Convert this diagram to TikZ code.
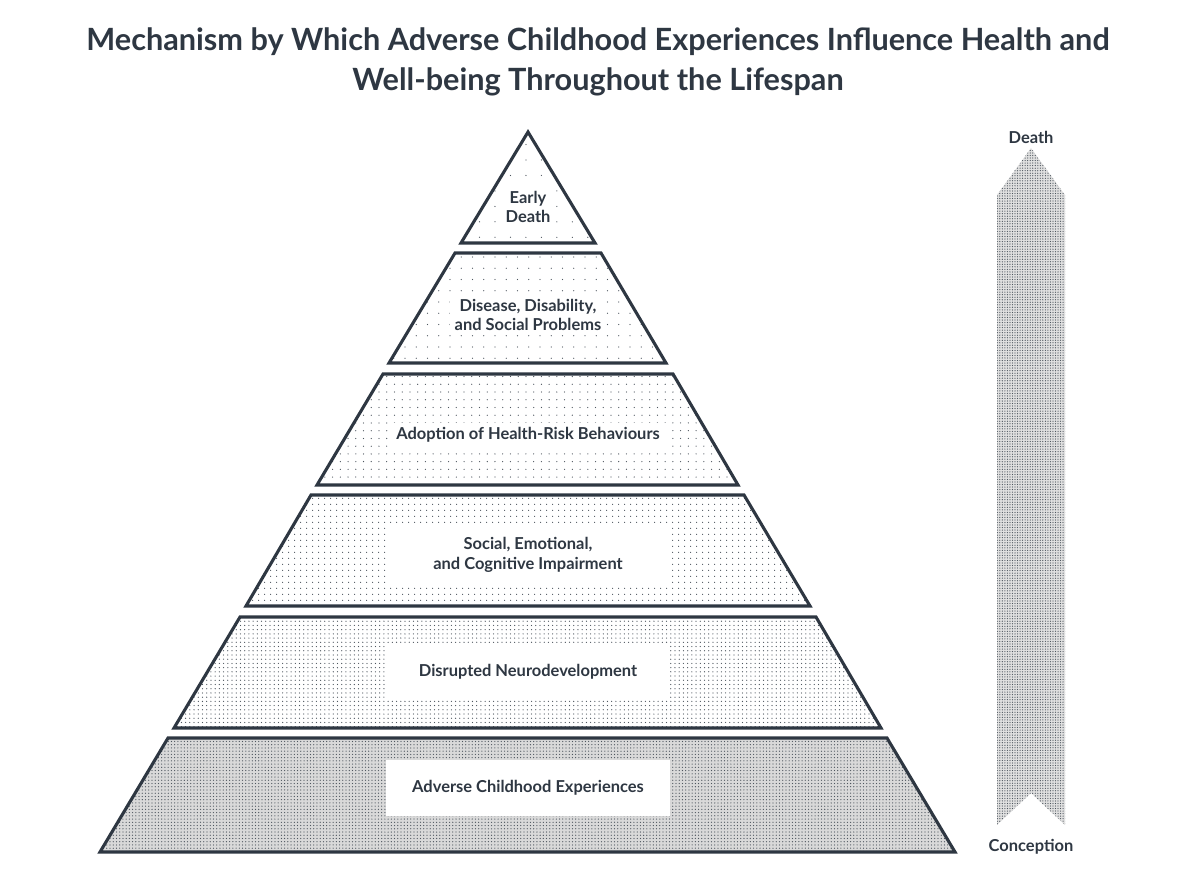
\documentclass[tikz,border=0pt]{standalone}
\usepackage{fontspec}
\setmainfont{Lato}
\usetikzlibrary{patterns.meta}
\definecolor{slate}{HTML}{2E3742}

\tikzset{
  tier/.style={draw=slate, line width=2.2pt, line join=miter},
  tierlabel/.style={fill=white, font=\bfseries\fontsize{11.7}{14}\selectfont,
    text=slate, align=center, inner sep=3pt},
  dotsfill/.style={pattern={Dots[radius=0.45pt, distance=#1]}, pattern color=slate!85}
}

\begin{document}
\begin{tikzpicture}[x=0.025cm, y=-0.025cm]
    \useasboundingbox (0,0) rectangle (1200,887);

    % Title
    \node[font=\bfseries\fontsize{21.8}{28}\selectfont, text=slate, align=center] (title) at (598,62)
        {Mechanism by Which Adverse Childhood Experiences Influence Health and\\Well-being Throughout the Lifespan};

    % Tiers of the pyramid, from top to bottom
    \draw[tier, dotsfill=11pt] (528,132) -- (595,243) -- (461,243) -- cycle;
    \draw[tier, dotsfill=8pt] (455,253) -- (601,253) -- (666,363) -- (389,363) -- cycle;
    \draw[tier, dotsfill=5.5pt] (383,374) -- (673,374) -- (738,485) -- (317,485) -- cycle;
    \draw[tier, dotsfill=4pt] (311,495) -- (744,495) -- (810,606) -- (246,606) -- cycle;
    \draw[tier, dotsfill=3pt] (240,617) -- (816,617) -- (881,728) -- (174,728) -- cycle;
    \fill[black!15] (168,738) -- (887,738) -- (955,852) -- (100,852) -- cycle;
    \draw[tier, dotsfill=2.3pt] (168,738) -- (887,738) -- (955,852) -- (100,852) -- cycle;

    % Labels
    \node[tierlabel] (death) at (528,207) {Early\\Death};
    \node[tierlabel] (disease) at (528,315) {Disease, Disability,\\and Social Problems};
    \node[tierlabel, minimum width=7cm] (adoption) at (528,435) {Adoption of Health-Risk Behaviours};
    \node[tierlabel, minimum width=7.1cm, minimum height=1.45cm] (impair) at (528,555) {Social, Emotional,\\and Cognitive Impairment};
    \node[tierlabel, minimum width=7.1cm, minimum height=1.4cm] (neuro) at (528,672) {Disrupted Neurodevelopment};
    \node[tierlabel, minimum width=7.1cm, minimum height=1.4cm] (ace) at (528,788) {Adverse Childhood Experiences};

    % Lifespan arrow
    \fill[black!12] (997,825) -- (997,195) -- (1031,148) -- (1065,195) -- (1065,825) -- (1031,793) -- cycle;
    \fill[dotsfill=1.8pt] (997,825) -- (997,195) -- (1031,148) -- (1065,195) -- (1065,825) -- (1031,793) -- cycle;
    \node[tierlabel, fill=none] (top) at (1031,137) {Death};
    \node[tierlabel, fill=none] (bottom) at (1031,847) {Conception};
\end{tikzpicture}
\end{document}
